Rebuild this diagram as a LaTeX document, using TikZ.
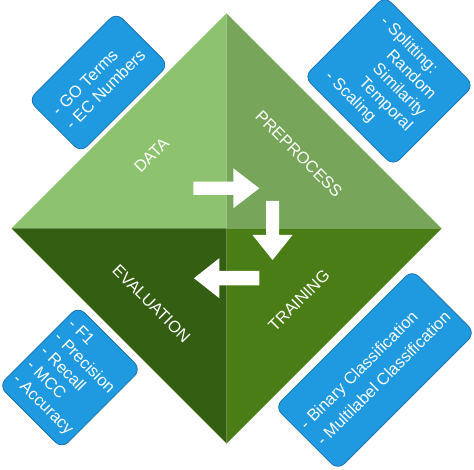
\documentclass[tikz,border=0pt]{standalone}
\usepackage{fontspec}
\setmainfont{Liberation Sans}
\usepackage{tikz}

\definecolor{datagreen}{HTML}{8DC36F}
\definecolor{prepgreen}{HTML}{77A65A}
\definecolor{evalgreen}{HTML}{345E12}
\definecolor{traingreen}{HTML}{4A7D15}
\definecolor{boxblue}{HTML}{1F9AE0}
\definecolor{boxedge}{HTML}{1A72B0}

\begin{document}
\begin{tikzpicture}[x=1pt,y=-1pt,
  stage/.style={text=white,inner sep=0pt,font=\fontsize{16.5}{19.5}\selectfont},
  infobox/.style={draw=boxedge,fill=boxblue,line width=0.8pt,rounded corners=9pt,
    text=white,align=left,inner sep=0pt,font=\fontsize{16.5}{19.5}\selectfont}]
\useasboundingbox (0,0) rectangle (474,470);

% the four quarters of the diamond
\coordinate (c) at (226.5,228.5);
\coordinate (n) at (226.5,13.5);
\coordinate (w) at (11.5,228.5);
\coordinate (e) at (441.5,228.5);
\coordinate (s) at (226.5,443.5);
\fill[datagreen] (c) -- (w) -- (n) -- cycle;
\fill[prepgreen] (c) -- (n) -- (e) -- cycle;
\fill[evalgreen] (c) -- (w) -- (s) -- cycle;
\fill[traingreen] (c) -- (e) -- (s) -- cycle;

\node[stage,rotate=45] (data) at (151.5,155) {DATA};
\node[stage,rotate=-45] (prep) at (299,154) {PREPROCESS};
\node[stage,rotate=-45] (eval) at (151.5,303.5) {EVALUATION};
\node[stage,rotate=45] (train) at (299,300.5) {TRAINING};

% block arrows
\fill[white] (193.3,181.6) -- (233.3,181.6) -- (233.3,168.3) -- (259.3,188.3)
  -- (233.3,208.3) -- (233.3,195) -- (193.3,195) -- cycle;
\fill[white] (266,201) -- (279,201) -- (279,235) -- (292.5,235) -- (272.5,260)
  -- (252.5,235) -- (266,235) -- cycle;
\fill[white] (259.3,271) -- (219.3,271) -- (219.3,258.2) -- (194,278.2)
  -- (219.3,298.2) -- (219.3,285.4) -- (259.3,285.4) -- cycle;

% blue notes
\node[infobox,rotate=45,minimum width=124,minimum height=74] (terms) at (98.5,82.5)
  {- GO Terms\\- EC Numbers};
\node[infobox,rotate=-45,minimum width=126,minimum height=114] (split) at (389,81)
  {- Splitting:\\\hspace*{1.7em}Random\\\hspace*{1.7em}Similarity\\\hspace*{1.7em}Temporal\\- Scaling};
\node[infobox,rotate=-45,minimum width=89,minimum height=112] (metrics) at (70,377.5)
  {- F1\\- Precision\\- Recall\\- MCC\\- Accuracy};
\node[infobox,rotate=45,minimum width=194,minimum height=89] (tasks) at (375,370)
  {- Binary Classification\\[4pt]- Multilabel Classification};
\end{tikzpicture}
\end{document}
